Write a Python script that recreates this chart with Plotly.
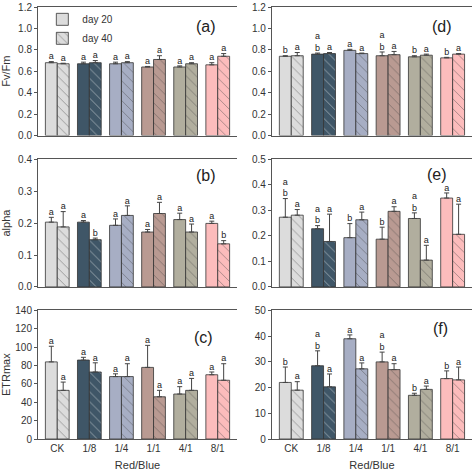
import plotly.graph_objects as go
from plotly.subplots import make_subplots

categories = ["CK", "1/8", "1/4", "1/1", "4/1", "8/1"]
colors = ["#dcdcdc", "#3f5667", "#a7aec4", "#b99a92", "#b1ae9e", "#fcbcbc"]

# (a) Fv/Fm
a_d20 = [0.68, 0.67, 0.67, 0.64, 0.64, 0.66]
a_d20_err = [0.01, 0.015, 0.015, 0.005, 0.01, 0.02]
a_d40 = [0.67, 0.68, 0.68, 0.71, 0.67, 0.74]
a_d40_err = [0.005, 0.02, 0.01, 0.035, 0.01, 0.025]
a_l20 = ["a", "a", "a", "a", "a", "a"]
a_l40 = ["a", "a", "a", "a", "a", "a"]

# (b) alpha
b_d20 = [0.203, 0.203, 0.193, 0.172, 0.211, 0.199]
b_d20_err = [0.015, 0.005, 0.02, 0.008, 0.02, 0.007]
b_d40 = [0.188, 0.148, 0.224, 0.230, 0.172, 0.135]
b_d40_err = [0.048, 0.005, 0.03, 0.035, 0.025, 0.01]
b_l20 = ["a", "a", "a", "a", "a", "a"]
b_l40 = ["a", "b", "a", "a", "a", "b"]

# (c) ETRmax
c_d20 = [84, 86, 68, 78, 49, 70]
c_d20_err = [17, 3, 3, 24, 8, 3]
c_d40 = [53, 73, 68, 46, 53, 64]
c_d40_err = [9, 10, 14, 7, 13, 18]
c_l20 = ["a", "a", "a", "a", "a", "a"]
c_l40 = ["a", "a", "a", "a", "a", "a"]

# (d) Fv/Fm
d_d20 = [0.74, 0.76, 0.795, 0.745, 0.735, 0.725]
d_d20_err = [0.005, 0.01, 0.01, 0.035, 0.01, 0.005]
d_d40 = [0.745, 0.765, 0.765, 0.755, 0.75, 0.76]
d_d40_err = [0.03, 0.01, 0.005, 0.03, 0.01, 0.005]
d_l20 = ["b", "a<br>b", "a", "a<br>b", "b", "b"]
d_l40 = ["a", "a", "a", "a", "a", "a"]

# (e) alpha
e_d20 = [0.273, 0.228, 0.193, 0.187, 0.268, 0.348]
e_d20_err = [0.073, 0.012, 0.055, 0.047, 0.022, 0.02]
e_d40 = [0.281, 0.178, 0.263, 0.296, 0.105, 0.206]
e_d40_err = [0.022, 0.107, 0.03, 0.018, 0.058, 0.118]
e_l20 = ["a<br>b", "a<br>b", "b", "b", "a<br>b", "a"]
e_l40 = ["a", "a", "a", "a", "a", "a"]

# (f) ETRmax
f_d20 = [22, 28.5, 39, 30, 17, 23.5]
f_d20_err = [6, 5.8, 1.5, 3.8, 0.8, 3]
f_d40 = [19, 20.3, 27.3, 27, 19.3, 23]
f_d40_err = [3.3, 5, 2.3, 2.3, 1.3, 5]
f_l20 = ["b", "a<br>b", "a", "a<br>b", "b", "b"]
f_l40 = ["a", "a", "a", "a", "a", "a"]

panels = [
    (1, 1, "(a)", a_d20, a_d20_err, a_d40, a_d40_err, a_l20, a_l40, 1.2, 0.2, "Fv/Fm", ".1f"),
    (2, 1, "(b)", b_d20, b_d20_err, b_d40, b_d40_err, b_l20, b_l40, 0.4, 0.1, "alpha", ".1f"),
    (3, 1, "(c)", c_d20, c_d20_err, c_d40, c_d40_err, c_l20, c_l40, 140, 20, "ETRmax", "d"),
    (1, 2, "(d)", d_d20, d_d20_err, d_d40, d_d40_err, d_l20, d_l40, 1.2, 0.2, None, ".1f"),
    (2, 2, "(e)", e_d20, e_d20_err, e_d40, e_d40_err, e_l20, e_l40, 0.5, 0.1, None, ".1f"),
    (3, 2, "(f)", f_d20, f_d20_err, f_d40, f_d40_err, f_l20, f_l40, 50, 10, None, "d"),
]
# panel tag positions (axis-domain fractions, right edge / middle)
tag_pos = {"(a)": (0.905, 0.85), "(b)": (0.905, 0.87), "(c)": (0.89, 0.79),
           "(d)": (0.91, 0.85), "(e)": (0.885, 0.88), "(f)": (0.89, 0.86)}

fig = make_subplots(rows=3, cols=2, horizontal_spacing=0.08, vertical_spacing=0.055)

W = 0.37
xs = list(range(len(categories)))
font = "Liberation Sans, Arial, sans-serif"
line_col = "#555555"

for row, col, tag, v20, e20, v40, e40, l20, l40, ymax, dtick, ytitle, fmt in panels:
    first = (row == 1 and col == 1)
    err_style = dict(type="data", symmetric=False, color="#444", thickness=1, width=2.5)
    fig.add_trace(go.Bar(
        x=xs, y=v20, name="day 20", width=W, offset=-W,
        marker=dict(color=colors, line=dict(color="#333", width=0.8)),
        error_y=dict(array=e20, arrayminus=[0] * 6, **err_style),
        showlegend=first, legendgroup="d20"), row=row, col=col)
    fig.add_trace(go.Bar(
        x=xs, y=v40, name="day 40", width=W, offset=0,
        marker=dict(color=colors, line=dict(color="#333", width=0.8),
                    pattern=dict(shape="\\", fgcolor="#222", bgcolor=colors,
                                 size=7, solidity=0.12)),
        error_y=dict(array=e40, arrayminus=[0] * 6, **err_style),
        showlegend=first, legendgroup="d40"), row=row, col=col)
    fig.add_trace(go.Scatter(
        x=[x - W / 2 for x in xs] + [x + W / 2 for x in xs],
        y=[v + e for v, e in zip(v20, e20)] + [v + e for v, e in zip(v40, e40)],
        text=l20 + l40, mode="text", textposition="top center",
        textfont=dict(size=9, color="#222", family=font),
        showlegend=False, hoverinfo="skip", cliponaxis=False), row=row, col=col)
    fig.update_yaxes(range=[0, ymax], dtick=dtick, tickformat=fmt, ticks="outside",
                     ticklen=3, tickcolor=line_col, showline=True, linecolor=line_col,
                     linewidth=1, showgrid=False, zeroline=False,
                     tickfont=dict(size=10, color="#333", family=font),
                     title=dict(text=ytitle, font=dict(size=11, color="#333", family=font),
                                standoff=6),
                     row=row, col=col)
    fig.update_xaxes(range=[-0.6, 5.6], tickvals=xs, ticktext=categories,
                     showticklabels=(row == 3), ticks="", showline=True, mirror=True,
                     linecolor=line_col, linewidth=1, showgrid=False, zeroline=False,
                     tickfont=dict(size=10, color="#333", family=font),
                     title=dict(text="Red/Blue" if row == 3 else None,
                                font=dict(size=11, color="#333", family=font),
                                standoff=8),
                     row=row, col=col)
    xref = fig.get_subplot(row, col).xaxis.plotly_name.replace("axis", "")
    yref = fig.get_subplot(row, col).yaxis.plotly_name.replace("axis", "")
    tx, ty = tag_pos[tag]
    fig.add_annotation(text=tag, x=tx, y=ty, xref=xref + " domain", yref=yref + " domain",
                       xanchor="right", yanchor="middle", showarrow=False,
                       font=dict(size=16, color="#222", family=font))

# place subplot domains to match reference layout
xdom = [[0.0, 0.4585], [0.539, 1.0]]
ydom = [[0.7025, 1.0], [0.352, 0.6476], [0.0, 0.2975]]
for row in range(1, 4):
    for col in range(1, 3):
        sp = fig.get_subplot(row, col)
        fig.layout[sp.xaxis.plotly_name].domain = xdom[col - 1]
        fig.layout[sp.yaxis.plotly_name].domain = ydom[row - 1]

fig.update_layout(
    width=474, height=472,
    margin=dict(l=38, r=2, t=3, b=32),
    barmode="overlay",
    plot_bgcolor="white", paper_bgcolor="white",
    font=dict(family=font, color="#333"),
    legend=dict(x=0.01, y=1.005, xanchor="left", yanchor="top",
                bgcolor="rgba(0,0,0,0)", font=dict(size=10, family=font),
                itemwidth=30, tracegroupgap=0),
)

fig.write_html("out.html", config={"displayModeBar": False},
               post_script="document.body.style.margin='0';")
